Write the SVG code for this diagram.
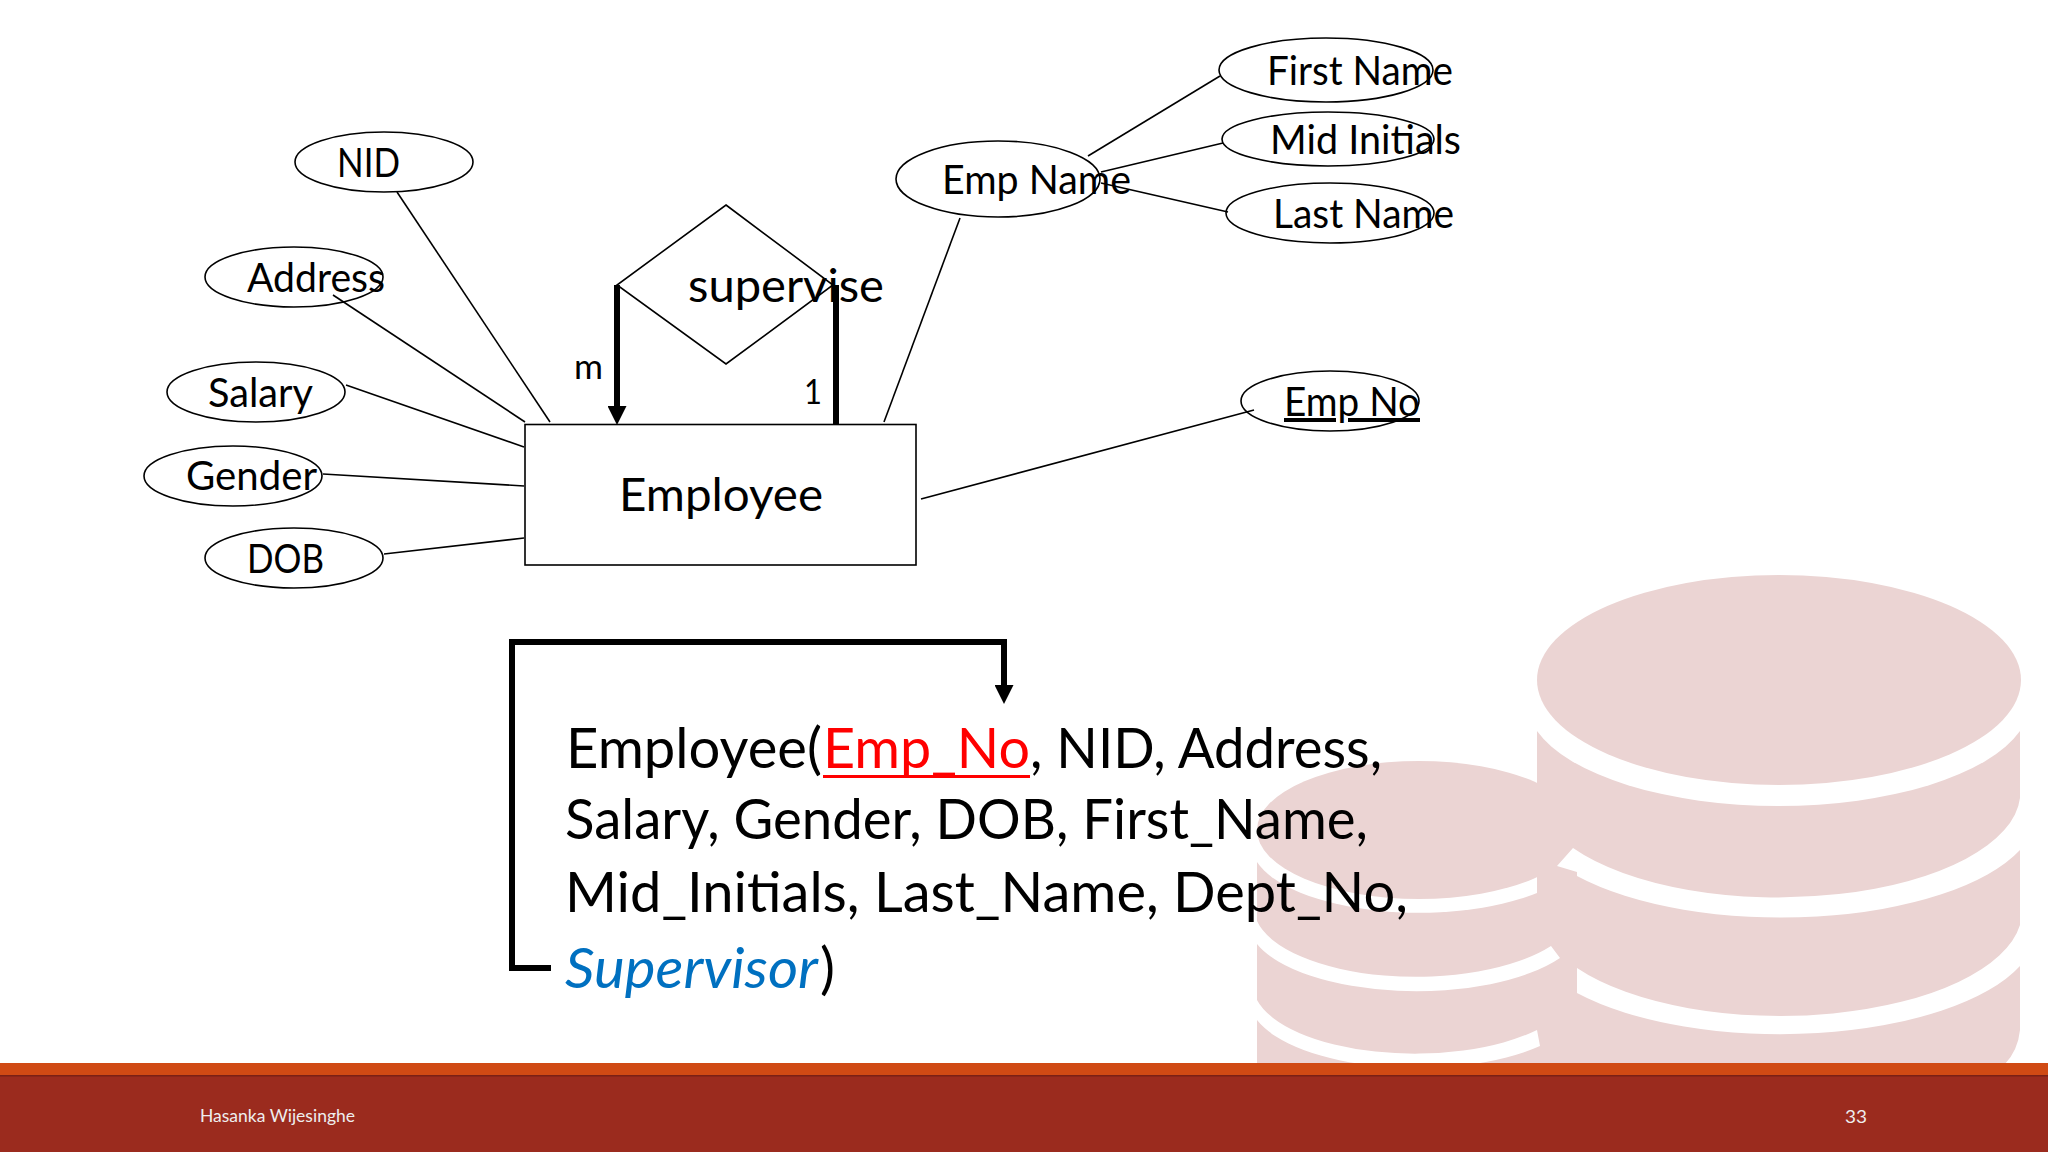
<svg xmlns="http://www.w3.org/2000/svg" width="2048" height="1152" viewBox="0 0 2048 1152">
<style>
text{font-family:"Lato","Carlito","Liberation Sans",sans-serif;fill:#000}
.a{font-size:40px}
.m{font-size:47px}
.s{font-size:35px}
.b{font-size:56px}
.f{font-size:18px;fill:#eee}
.o{fill:none;stroke:#000;stroke-width:1.6}
.c{fill:none;stroke:#000;stroke-width:1.6}
.t{fill:none;stroke:#000;stroke-width:6}
.p{fill:#ebd4d3}
.w{fill:#fff}
</style>
<defs>
<marker id="h" markerUnits="userSpaceOnUse" markerWidth="19" markerHeight="19" refX="0" refY="9.5" orient="auto"><path d="M0 0L19 9.5L0 19Z" fill="#000"/></marker>
</defs>
<rect width="2048" height="1152" fill="#fff"/>
<g id="background">
<rect class="p" x="1257" y="830" width="290" height="240"/>
<path class="w" d="M1250 835L1257 862A168 69 0 0 0 1537 893L1537 835Z"/>
<ellipse class="p" cx="1419" cy="830" rx="162" ry="69"/>
<rect class="p" x="1537" y="680" width="483" height="390"/>
<path class="w" d="M1537 731A252 105 0 0 0 2020 731L2020 640L1537 640Z"/>
<ellipse class="p" cx="1779" cy="680" rx="242" ry="105"/>
<path class="w" d="M1573 848A242 105 0 0 0 2020 798L2021 798L2021 850L2020 850A256 105 0 0 1 1577 876L1577 872L1557 866Z"/>
<path class="w" d="M1577 968A242 105 0 0 0 2020 925L2021 925L2021 966L2020 966A256 105 0 0 1 1577 993Z"/>
<path class="w" d="M2021 1030L2020 1030Q2018 1050 2005 1064L2021 1064Z"/>
<path class="w" d="M1257 921A162 69 0 0 0 1551 946L1560 958A168 69 0 0 1 1257 944Z"/>
<path class="w" d="M1257 1000A162 69 0 0 0 1537 1030L1540 1046A168 69 0 0 1 1257 1020Z"/>
</g>
<g id="connectors">
<path class="c" d="M397 192L550 422"/>
<path class="c" d="M333 295L525 422"/>
<path class="c" d="M346 385L524 447"/>
<path class="c" d="M323 474L524 486"/>
<path class="c" d="M384 554L524 538"/>
<path class="c" d="M960 218L884 422"/>
<path class="c" d="M921 499L1254 410"/>
<path class="c" d="M1088 156L1220 76"/>
<path class="c" d="M1101 172L1223 143"/>
<path class="c" d="M1101 183L1228 212"/>
<path class="t" d="M617 285L617 406" marker-end="url(#h)"/>
<path class="t" d="M836 285L836 424"/>
<path class="t" d="M551 968L512 968L512 642L1004 642L1004 685" marker-end="url(#h)"/>
</g>
<g id="employee"><rect class="o" x="525" y="424.500" width="391" height="140.500"/><text class="m" x="619" y="511" textLength="204" lengthAdjust="spacingAndGlyphs">Employee</text></g>
<g id="supervise"><path class="o" d="M726 205L833 285L726 364L617 285Z"/><text class="m" x="688" y="302" textLength="196" lengthAdjust="spacingAndGlyphs">supervise</text></g>
<g id="card-m"><text class="s" x="574" y="379" textLength="29" lengthAdjust="spacingAndGlyphs">m</text></g>
<g id="card-1"><text class="s" x="804" y="404" textLength="18" lengthAdjust="spacingAndGlyphs">1</text></g>
<g id="nid"><ellipse class="o" cx="384" cy="162" rx="89" ry="30"/><text class="a" x="337" y="177" textLength="63" lengthAdjust="spacingAndGlyphs">NID</text></g>
<g id="address"><ellipse class="o" cx="294" cy="277" rx="89" ry="30"/><text class="a" x="247" y="292" textLength="138" lengthAdjust="spacingAndGlyphs">Address</text></g>
<g id="salary"><ellipse class="o" cx="256" cy="392" rx="89" ry="30"/><text class="a" x="208" y="407" textLength="105" lengthAdjust="spacingAndGlyphs">Salary</text></g>
<g id="gender"><ellipse class="o" cx="233" cy="476" rx="89" ry="30"/><text class="a" x="186" y="490" textLength="131" lengthAdjust="spacingAndGlyphs">Gender</text></g>
<g id="dob"><ellipse class="o" cx="294" cy="558" rx="89" ry="30"/><text class="a" x="247" y="573" textLength="77" lengthAdjust="spacingAndGlyphs">DOB</text></g>
<g id="emp-name"><ellipse class="o" cx="998" cy="179" rx="102" ry="38"/><text class="a" x="942" y="194" textLength="189" lengthAdjust="spacingAndGlyphs">Emp Name</text></g>
<g id="first-name"><ellipse class="o" cx="1326" cy="70" rx="107" ry="32"/><text class="a" x="1267" y="85" textLength="186" lengthAdjust="spacingAndGlyphs">First Name</text></g>
<g id="mid-initials"><ellipse class="o" cx="1328" cy="139" rx="106" ry="27"/><text class="a" x="1270" y="154" textLength="191" lengthAdjust="spacingAndGlyphs">Mid Initials</text></g>
<g id="last-name"><ellipse class="o" cx="1330" cy="213" rx="104" ry="30"/><text class="a" x="1273" y="228" textLength="181" lengthAdjust="spacingAndGlyphs">Last Name</text></g>
<g id="emp-no"><ellipse class="o" cx="1330" cy="401" rx="89" ry="30"/><text class="a" x="1284" y="416" textLength="136" lengthAdjust="spacingAndGlyphs" text-decoration="underline">Emp No</text></g>
<g id="schema">
<text class="b" x="566" y="768" textLength="256" lengthAdjust="spacingAndGlyphs">Employee(</text>
<text class="b" x="823" y="768" textLength="207" lengthAdjust="spacingAndGlyphs" style="fill:#f00">Emp_No</text>
<path d="M823 776.500H1030" stroke="#f00" stroke-width="3"/>
<text class="b" x="1030" y="768" textLength="352" lengthAdjust="spacingAndGlyphs">, NID, Address,</text>
<text class="b" x="565" y="839" textLength="803" lengthAdjust="spacingAndGlyphs">Salary, Gender, DOB, First_Name,</text>
<text class="b" x="565" y="912" textLength="843" lengthAdjust="spacingAndGlyphs">Mid_Initials, Last_Name, Dept_No,</text>
<text class="b" x="565" y="988" textLength="253" lengthAdjust="spacingAndGlyphs" font-style="italic" style="fill:#0070c0">Supervisor</text>
<text class="b" x="820" y="988">)</text>
</g>
<g id="footer">
<rect y="1063" width="2048" height="12" fill="#d04a14"/>
<rect y="1075" width="2048" height="77" fill="#9b2b1e"/>
<rect y="1075" width="2048" height="1.500" fill="#7a2015"/>
<text class="f" x="200" y="1122" textLength="155" lengthAdjust="spacingAndGlyphs">Hasanka Wijesinghe</text>
<text class="f" x="1845" y="1123" textLength="22" lengthAdjust="spacingAndGlyphs">33</text>
</g>
</svg>
